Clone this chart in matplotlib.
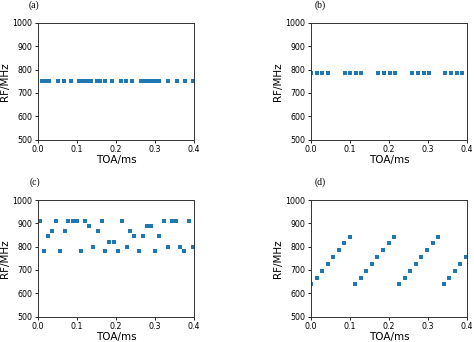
import matplotlib
matplotlib.use("Agg")
import matplotlib.pyplot as plt

# (a) constant RF
toa_a = [0.010, 0.019, 0.027, 0.050, 0.067, 0.084, 0.104, 0.111, 0.118, 0.125,
         0.135, 0.151, 0.159, 0.171, 0.189, 0.214, 0.225, 0.241, 0.265, 0.270,
         0.275, 0.281, 0.289, 0.301, 0.311, 0.333, 0.357, 0.378, 0.398]
rf_a = [750] * len(toa_a)

# (b) grouped pulses
toa_b = [0.000, 0.0145, 0.029, 0.0434, 0.086, 0.1004, 0.1149, 0.1294,
         0.1728, 0.187, 0.2017, 0.216, 0.2596, 0.274, 0.2885, 0.303,
         0.3447, 0.359, 0.3736, 0.388]
rf_b = [785] * len(toa_b)

# (c) agile RF
toa_c = [0.004, 0.0145, 0.026, 0.037, 0.046, 0.057, 0.068, 0.078, 0.090, 0.101,
         0.110, 0.121, 0.131, 0.142, 0.153, 0.163, 0.173, 0.183, 0.195, 0.205,
         0.216, 0.227, 0.237, 0.247, 0.258, 0.269, 0.280, 0.290, 0.300, 0.311,
         0.322, 0.333, 0.344, 0.354, 0.365, 0.375, 0.386, 0.397]
rf_c = [910, 780, 845, 865, 910, 780, 865, 910, 910, 910,
        780, 910, 890, 800, 865, 910, 780, 820, 820, 780,
        910, 800, 865, 845, 780, 845, 890, 890, 780, 845,
        910, 800, 910, 910, 800, 780, 910, 800]

# (d) sweeping RF
toa_d = [0.000, 0.0145, 0.028, 0.0426, 0.057, 0.0706, 0.085, 0.100,
         0.113, 0.128, 0.141, 0.156, 0.170, 0.184, 0.199, 0.213,
         0.226, 0.241, 0.255, 0.270, 0.283, 0.298, 0.312, 0.326,
         0.340, 0.355, 0.369, 0.383, 0.397]
rf_d = [640, 666, 697, 726, 754, 784, 814, 843,
        640, 666, 697, 726, 754, 784, 814, 843,
        640, 666, 697, 726, 754, 784, 814, 843,
        640, 666, 697, 726, 754]

panel_labels = ["(a)", "(b)", "(c)", "(d)"]
xticks = [0.0, 0.1, 0.2, 0.3, 0.4]
yticks = [500, 600, 700, 800, 900, 1000]

W, H = 474, 342
fig = plt.figure(figsize=(W / 100, H / 100), dpi=100)

boxes = [(38, 23), (311, 23), (38, 200), (311, 200)]
aw, ah = 156, 116.5
label_pos = [(34, 5), (320, 5), (35, 182), (320, 182)]
datasets = [(toa_a, rf_a), (toa_b, rf_b), (toa_c, rf_c), (toa_d, rf_d)]

for (px, py), (lx, ly), (xs, ys), lab in zip(boxes, label_pos, datasets, panel_labels):
    ax = fig.add_axes([px / W, 1 - (py + ah) / H, aw / W, ah / H])
    ax.scatter(xs, ys, s=6, marker="s", color="#1f77b4", linewidths=0)
    ax.set_xlim(0, 0.4)
    ax.set_ylim(500, 1000)
    ax.set_xticks(xticks)
    ax.set_yticks(yticks)
    ax.set_xticklabels([f"{t:.1f}" for t in xticks])
    ax.tick_params(labelsize=5.7, length=2.5, width=0.6, pad=1.5)
    for sp in ax.spines.values():
        sp.set_linewidth(0.7)
        sp.set_color("#333333")
    ax.set_xlabel("TOA/ms", fontsize=7.5, labelpad=1)
    ax.set_ylabel("RF/MHz", fontsize=7.5, labelpad=2)
    fig.text(lx / W, 1 - ly / H, lab, ha="center", va="center",
             fontsize=7, family="Liberation Serif")

fig.savefig("out.png", dpi=100)
